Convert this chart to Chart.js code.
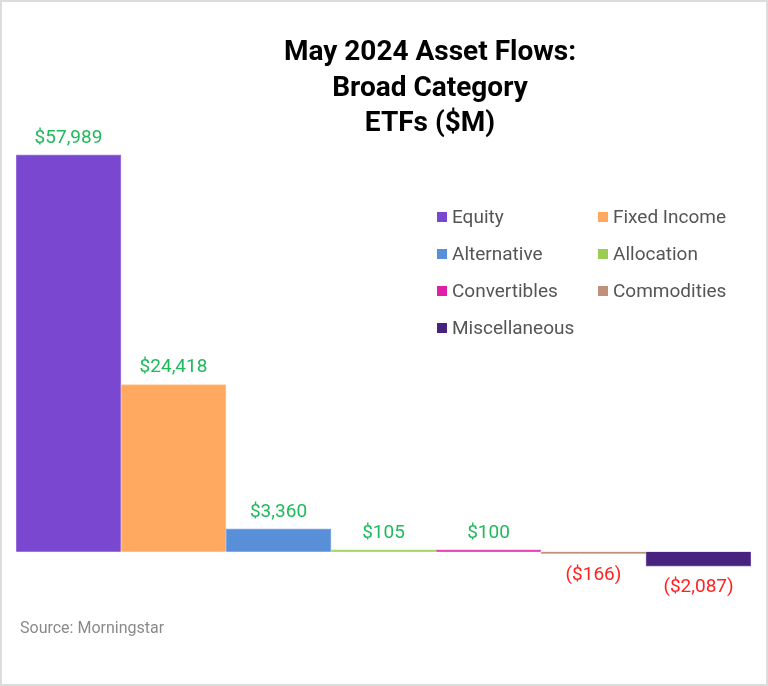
<!DOCTYPE html>
<html>
<head>
<meta charset="utf-8">
<script src="https://cdn.jsdelivr.net/npm/chart.js@4"></script>
<style>
html,body{margin:0;padding:0;background:#fff;}
#wrap{width:768px;height:686px;position:relative;}
</style>
</head>
<body>
<div id="wrap"><canvas id="c" width="768" height="686"></canvas></div>
<script>
const categories = ["Equity","Fixed Income","Alternative","Allocation","Convertibles","Commodities","Miscellaneous"];
const flows = [57989, 24418, 3360, 105, 100, -166, -2087];
const valueLabels = ["$57,989","$24,418","$3,360","$105","$100","($166)","($2,087)"];
const titleLines = ["May 2024 Asset Flows:","Broad Category","ETFs ($M)"];
const sourceText = "Source: Morningstar";
const barColors = ["#7a47d1","#ffa85f","#588fd8","#9acd52","#e01fa8","#c0907a","#47227f"];
const barBorders = ["#a27fe0","#ffc796","#87aee5","#b5dc80","#ee6cc6","#d8b6a6","#7a5aa8"];

const decor = {
  id:'decor',
  beforeDraw(chart){
    const ctx = chart.ctx;
    ctx.save();
    ctx.fillStyle='#fff';
    ctx.fillRect(0,0,chart.width,chart.height);
    ctx.restore();
  },
  afterDraw(chart){
    const ctx = chart.ctx;
    ctx.save();
    // border
    ctx.strokeStyle='#dcdcdc';
    ctx.lineWidth=2;
    ctx.strokeRect(1,1,chart.width-2,chart.height-2);
    // title
    ctx.fillStyle='#000';
    ctx.font='bold 28px Roboto';
    ctx.textAlign='center';
    ctx.textBaseline='middle';
    titleLines.forEach((t,i)=>ctx.fillText(t,430,53+i*35.5));
    // data labels
    const meta = chart.getDatasetMeta(0);
    ctx.font='19px Roboto';
    meta.data.forEach((bar,i)=>{
      const v = flows[i];
      if (v>=0){
        ctx.fillStyle='#1fba5a';
        ctx.fillText(valueLabels[i], bar.x, Math.min(bar.y, bar.base)-17);
      } else {
        ctx.fillStyle='#ff2222';
        ctx.fillText(valueLabels[i], bar.x, Math.max(bar.y, bar.base)+21);
      }
    });
    // legend
    ctx.font='19px Roboto';
    ctx.textAlign='left';
    categories.forEach((c,i)=>{
      const col = i%2, row = Math.floor(i/2);
      const x = col===0 ? 437 : 598;
      const y = 217 + row*37;
      ctx.fillStyle=barColors[i];
      ctx.fillRect(x, y-5, 10, 10);
      ctx.fillStyle='#555';
      ctx.fillText(c, x+15, y+1);
    });
    // source
    ctx.font='16px Roboto';
    ctx.fillStyle='#8a8a8a';
    ctx.fillText(sourceText, 20, 629);
    ctx.restore();
  }
};

new Chart(document.getElementById('c'),{
  type:'bar',
  data:{
    labels:categories,
    datasets:[{
      data:flows,
      backgroundColor:barColors,
      borderColor:barBorders,
      borderWidth:1,
      minBarLength:2,
      categoryPercentage:1,
      barPercentage:1
    }]
  },
  options:{
    responsive:false,
    animation:false,
    layout:{padding:{left:16,right:17,top:141,bottom:100}},
    plugins:{legend:{display:false},title:{display:false},tooltip:{enabled:false}},
    scales:{
      x:{display:false},
      y:{display:false,min:-5000,max:60000}
    }
  },
  plugins:[decor]
});
</script>
</body>
</html>
